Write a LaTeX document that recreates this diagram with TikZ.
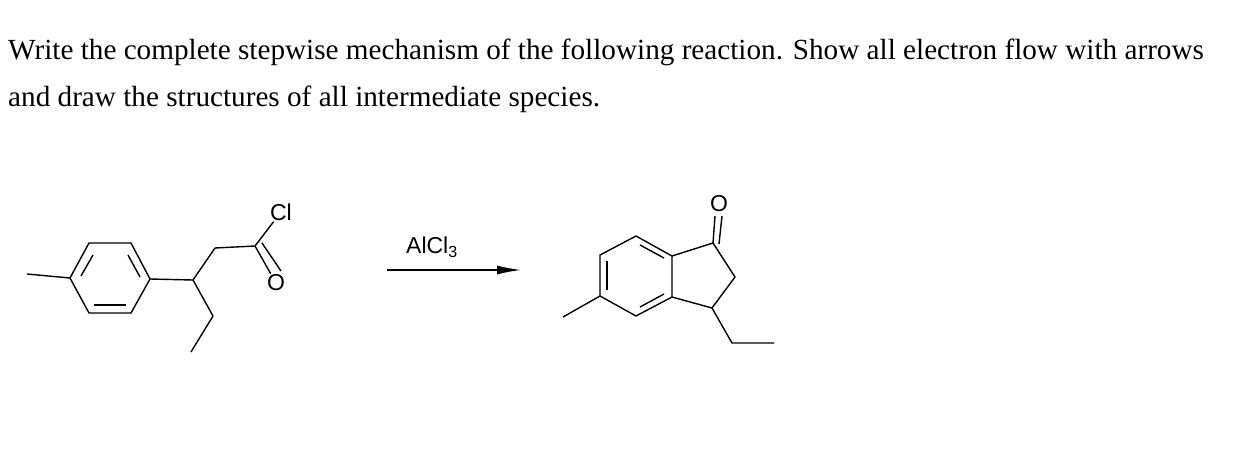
\documentclass[tikz,border=0pt]{standalone}
\usepackage{fontspec}
\setmainfont{Liberation Serif}
\newfontfamily\labfont{Liberation Sans}
\usetikzlibrary{calc,arrows.meta}
\begin{document}
\begin{tikzpicture}[x=1pt,y=-1pt,bond/.style={line width=1.4pt,line join=round},
  atom/.style={font=\labfont\fontsize{23}{26}\selectfont,inner sep=1pt},
  txt/.style={font=\fontsize{29.2}{32}\selectfont,anchor=base west,inner sep=0pt}]
\useasboundingbox (0,0) rectangle (1236,458);
\node[txt] (t1) at (8,59) {Write the complete stepwise mechanism of the following reaction. Show all electron flow with arrows};
\node[txt] (t2) at (8,106) {and draw the structures of all intermediate species.};
% left molecule
\coordinate (m) at (27,274);
\coordinate (a1) at (70,278); \coordinate (a2) at (89,243); \coordinate (a3) at (131,243);
\coordinate (a4) at (150,279); \coordinate (a5) at (131,313); \coordinate (a6) at (89,313);
\draw[bond] (a1)--(a2)--(a3)--(a4)--(a5)--(a6)--cycle;
\draw[bond] (m)--(a1);
\draw[bond] (93,255)--(81,276);
\draw[bond] (128,255)--(140,277);
\draw[bond] (94,305)--(126,305);
\coordinate (c1) at (193,280); \coordinate (c2) at (215,248); \coordinate (c3) at (255,246);
\coordinate (c4) at (213,316); \coordinate (c5) at (191,352);
\node[atom] (cl) at (281,212) {Cl};
\node[atom] (o1) at (276,283) {O};
\draw[bond] (a4)--(c1)--(c2)--(c3)--(cl);
\draw[bond] (c3)--(o1);
\draw[bond] ($(c3)+(7,-3)$)--($(o1)+(5,-12)$);
\draw[bond] (c1)--(c4)--(c5);
% arrow
\node[atom] (al) at (432,247) {AlCl\textsubscript{3}};
\coordinate (ar1) at (387,270); \coordinate (ar2) at (521,270);
\draw[line width=1.4pt,-{Latex[length=24pt,width=9pt]}] (ar1)--(ar2);
% right molecule
\coordinate (b1) at (636,236); \coordinate (b2) at (600,255); \coordinate (b3) at (600,296);
\coordinate (b4) at (636,316); \coordinate (b5) at (672,297); \coordinate (b6) at (672,256);
\coordinate (mm) at (563,317);
\coordinate (k) at (713,243); \coordinate (ch2) at (735,277); \coordinate (ch) at (712,308);
\coordinate (e1) at (732,343); \coordinate (e2) at (774,343);
\node[atom] (o2) at (719,204) {O};
\draw[bond] (b1)--(b2)--(b3)--(b4)--(b5)--(b6)--cycle;
\draw[bond] (607,261)--(607,290);
\draw[bond] (640,245)--(664,258);
\draw[bond] (640,307)--(664,294);
\draw[bond] (b3)--(mm);
\draw[bond] (b6)--(k)--(ch2)--(ch)--(b5);
\draw[bond] (ch)--(e1)--(e2);
\draw[bond] (k)--($(o2)+(-4,12)$);
\draw[bond] ($(k)+(6,1)$)--($(o2)+(3,12)$);
\end{tikzpicture}
\end{document}
